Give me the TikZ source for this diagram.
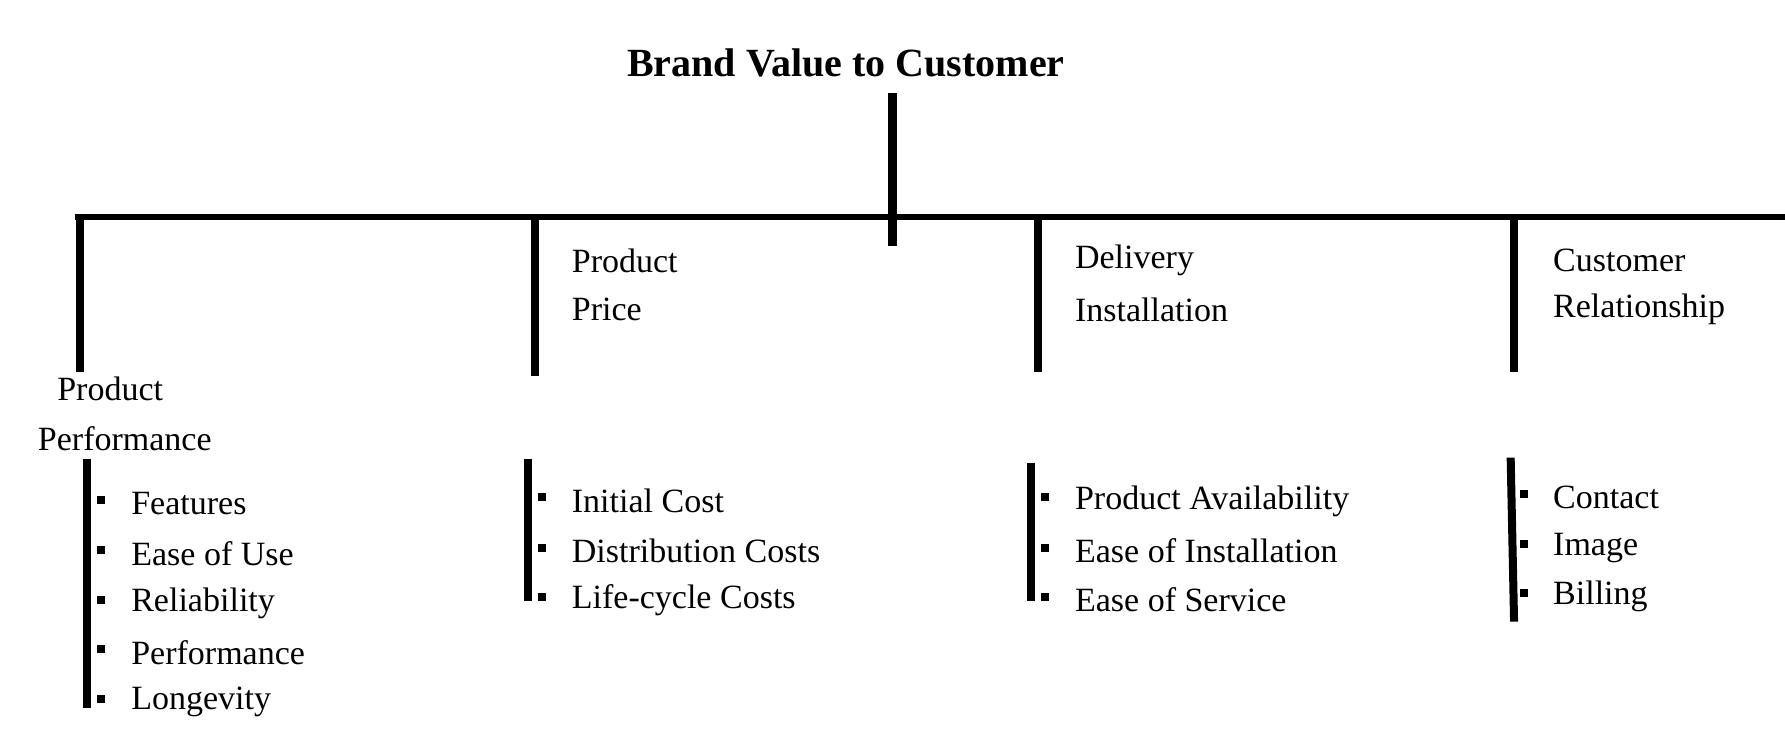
\documentclass[tikz,border=0pt]{standalone}
\usepackage{fontspec}
\setmainfont{Liberation Serif}
\begin{document}
\begin{tikzpicture}[x=0.02cm,y=-0.02cm,
  txt/.style={anchor=west,inner sep=0pt,font=\fontsize{17}{21}\selectfont},
  bar/.style={line width=4pt},
  bul/.style={fill=black,minimum size=4pt,inner sep=0pt}]
\useasboundingbox (0,0) rectangle (1568,647);
\node[font=\bfseries\fontsize{20}{24}\selectfont] (title) at (743,55) {Brand Value to Customer};
\coordinate (s1) at (784,82); \coordinate (s2) at (784,216);
\draw[line width=4.5pt] (s1) -- (s2);
\coordinate (h1) at (66,191); \coordinate (h2) at (1568,191);
\draw[line width=3pt] (h1) -- (h2);
\foreach \x/\n/\b in {70/a/327,470/b/330,912/c/327,1330/d/327}{
  \coordinate (\n t) at (\x,189); \coordinate (\n b) at (\x,\b);
  \draw[bar] (\n t) -- (\n b);}
\node[txt] (pp1) at (50,342) {Product};
\node[txt] (pp2) at (33,385) {Performance};
\node[txt] (pr1) at (502,229) {Product};
\node[txt] (pr2) at (502,272) {Price};
\node[txt] (di1) at (944,229) {Delivery};
\node[txt] (di2) at (944,272) {Installation};
\node[txt] (cu1) at (1364,229) {Customer};
\node[txt] (cu2) at (1364,272) {Relationship};
% lists
\coordinate (l1a) at (76,403); \coordinate (l1b) at (76,622);
\draw[bar] (l1a) -- (l1b);
\foreach \y/\t/\n in {442/Features/f1,486/Ease of Use/f2,530/Reliability/f3,573/Performance/f4,617/Longevity/f5}{
  \node[bul] (\n s) at (89,\y-3) {}; \node[txt] (\n) at (115,\y) {\t};}
\coordinate (l2a) at (464,403); \coordinate (l2b) at (464,528);
\draw[bar] (l2a) -- (l2b);
\foreach \y/\t/\n in {440/Initial Cost/g1,484/Distribution Costs/g2,527/Life-cycle Costs/g3}{
  \node[bul] (\n s) at (476,\y-3) {}; \node[txt] (\n) at (502,\y) {\t};}
\coordinate (l3a) at (906,407); \coordinate (l3b) at (906,528);
\draw[bar] (l3a) -- (l3b);
\foreach \y/\t/\n in {440/Product Availability/h1,484/Ease of Installation/h2,527/Ease of Service/h3}{
  \node[bul] (\n s) at (918,\y-3) {}; \node[txt] (\n) at (944,\y) {\t};}
\coordinate (l4a) at (1327,402); \coordinate (l4b) at (1330,546);
\draw[bar] (l4a) -- (l4b);
\foreach \y/\t/\n in {437/Contact/k1,481/Image/k2,524/Billing/k3}{
  \node[bul] (\n s) at (1339,\y-3) {}; \node[txt] (\n) at (1364,\y) {\t};}
\end{tikzpicture}
\end{document}
